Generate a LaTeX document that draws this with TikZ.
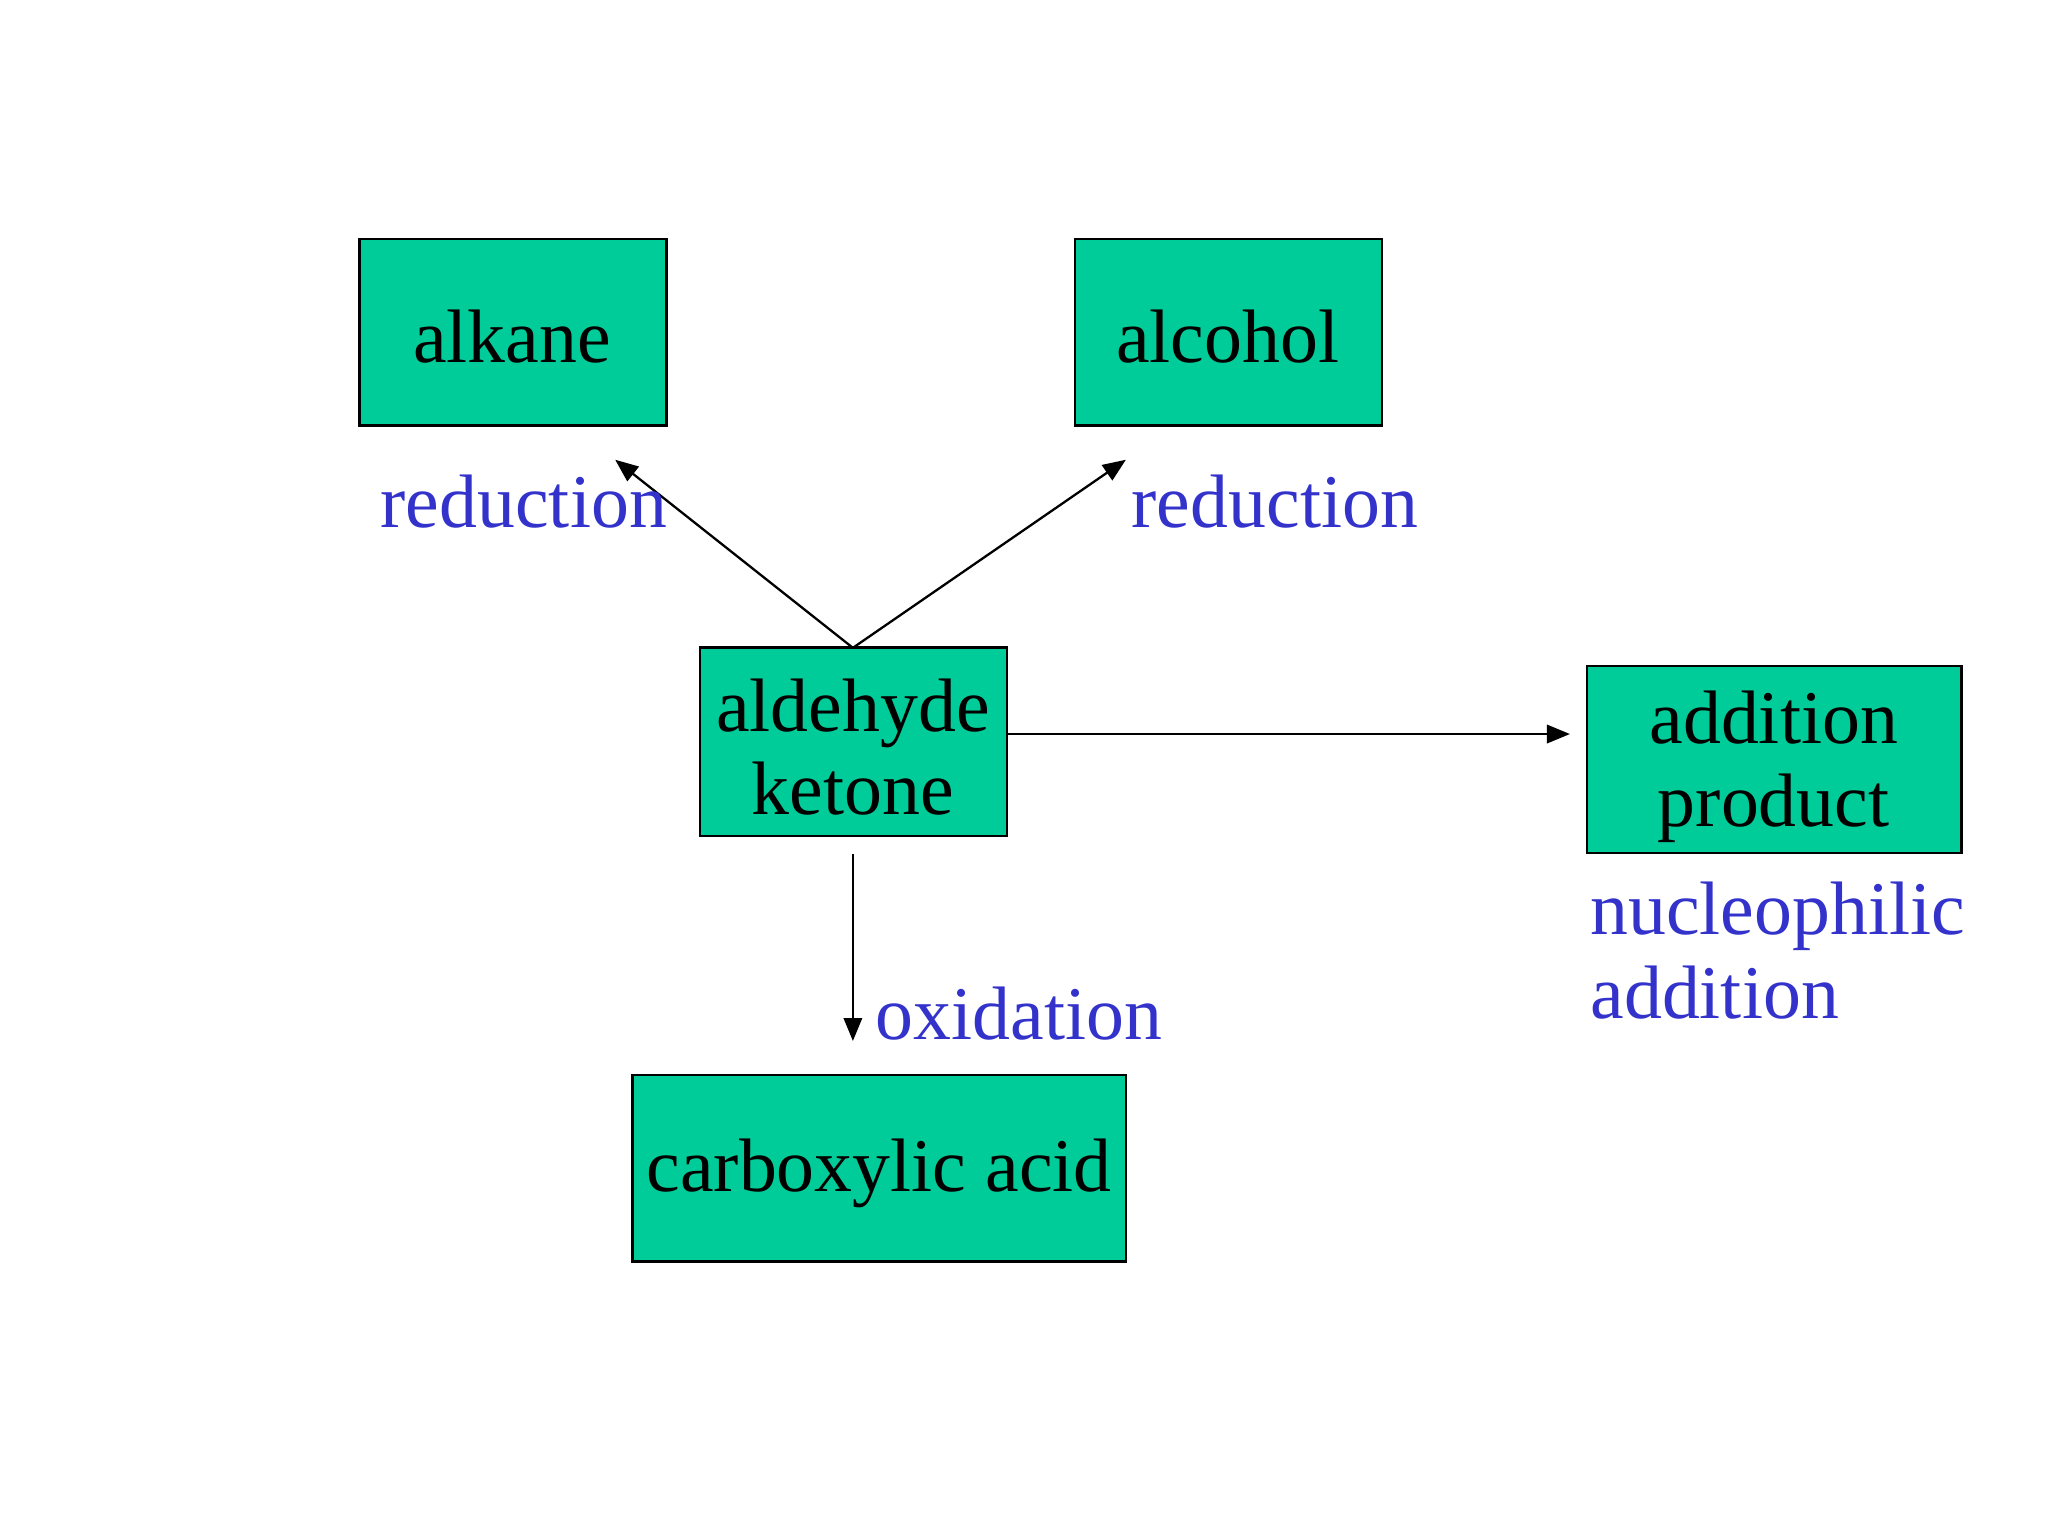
\documentclass[tikz,border=0pt]{standalone}
\usepackage{fontspec}
\setmainfont{Liberation Serif}
\usetikzlibrary{arrows.meta}
\definecolor{boxgreen}{HTML}{00CC99}
\definecolor{labblue}{HTML}{3333CC}
\begin{document}
\begin{tikzpicture}[x=0.01cm,y=-0.01cm,
  box/.style={draw=black,fill=boxgreen,line width=0.6pt,align=center,font=\fontsize{16.5}{18}\selectfont},
  lab/.style={text=labblue,font=\fontsize{16.5}{18.2}\selectfont,inner sep=0pt},
  arr/.style={-{Triangle[length=5pt,width=4pt]},line width=0.5pt}]
\useasboundingbox (0,0) rectangle (1568,1176);
\path[box] (275,183) rectangle (510,326);
\node[box,draw=none,fill=none] (alkane) at (392,258) {alkane};
\path[box] (823,183) rectangle (1058,326);
\node[box,draw=none,fill=none] (alcohol) at (940,258) {alcohol};
\path[box] (536,496) rectangle (771,640);
\node[box,draw=none,fill=none] (ald) at (653,572) {aldehyde\\ketone};
\path[box] (1215,510) rectangle (1502,653);
\node[box,draw=none,fill=none] (add) at (1358,587) {addition\\product};
\path[box] (484,823) rectangle (862,966);
\node[box,draw=none,fill=none] (carb) at (673,898) {carboxylic acid};
\coordinate (aT) at (653,496);
\coordinate (aR) at (771,562);
\coordinate (aB) at (653,654);
\coordinate (e1) at (471,352);
\coordinate (e2) at (862,352);
\coordinate (e3) at (1202,562);
\coordinate (e4) at (653,797);
\draw[arr] (aT) -- (e1);
\draw[arr] (aT) -- (e2);
\draw[arr] (aR) -- (e3);
\draw[arr] (aB) -- (e4);
\node[lab] (r1) at (401,384) {reduction};
\node[lab] (r2) at (976,384) {reduction};
\node[lab] (ox) at (780,776) {oxidation};
\node[lab,anchor=west,align=left] (nu) at (1217,728) {nucleophilic\\addition};
\end{tikzpicture}
\end{document}
